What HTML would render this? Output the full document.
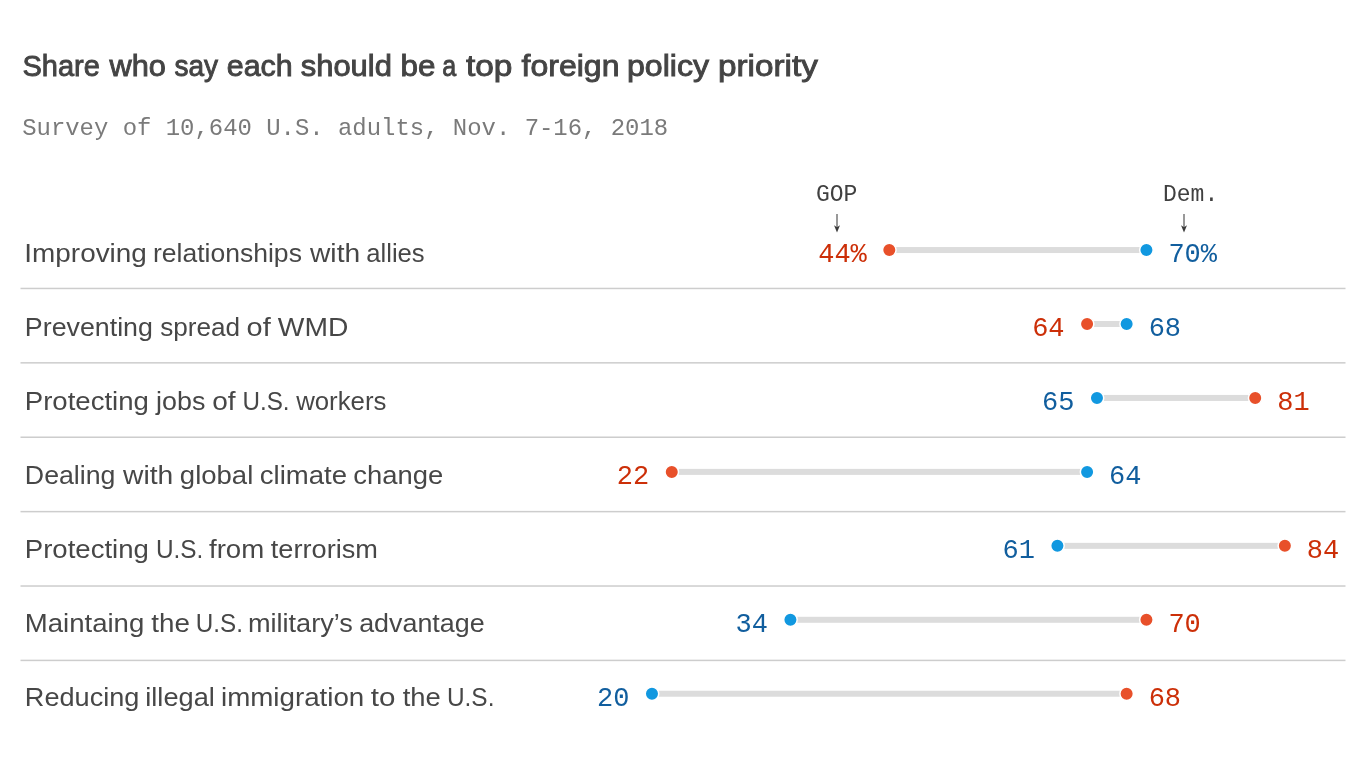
<!DOCTYPE html>
<html><head><meta charset="utf-8"><style>
html,body{margin:0;padding:0;background:#fff;width:1366px;height:768px;overflow:hidden}
svg{position:absolute;left:0;top:0;will-change:transform}
.title{font-family:"Liberation Sans",sans-serif;font-weight:normal;font-size:29.5px;fill:#444;stroke:#444;stroke-width:0.9px}
.sub{font-family:"Liberation Mono",monospace;font-size:24px;fill:#7a7a7a}
.hdr{font-family:"Liberation Mono",monospace;font-size:23px;fill:#404040}
.lab{font-family:"Liberation Sans",sans-serif;font-size:26.5px;fill:#474747}
.num{font-family:"Liberation Mono",monospace;font-size:27px}
</style></head><body>
<svg width="1366" height="768" viewBox="0 0 1366 768">
<text class="title" x="22.44" y="76" textLength="77.41" lengthAdjust="spacingAndGlyphs">Share</text>
<text class="title" x="109.55" y="76" textLength="56.43" lengthAdjust="spacingAndGlyphs">who</text>
<text class="title" x="174.46" y="76" textLength="43.59" lengthAdjust="spacingAndGlyphs">say</text>
<text class="title" x="226.73" y="76" textLength="66.00" lengthAdjust="spacingAndGlyphs">each</text>
<text class="title" x="300.74" y="76" textLength="91.17" lengthAdjust="spacingAndGlyphs">should</text>
<text class="title" x="400.44" y="76" textLength="34.95" lengthAdjust="spacingAndGlyphs">be</text>
<text class="title" x="442.36" y="76" textLength="13.96" lengthAdjust="spacingAndGlyphs">a</text>
<text class="title" x="466.00" y="76" textLength="46.47" lengthAdjust="spacingAndGlyphs">top</text>
<text class="title" x="521.60" y="76" textLength="97.88" lengthAdjust="spacingAndGlyphs">foreign</text>
<text class="title" x="627.00" y="76" textLength="82.07" lengthAdjust="spacingAndGlyphs">policy</text>
<text class="title" x="718.05" y="76" textLength="99.80" lengthAdjust="spacingAndGlyphs">priority</text>
<text class="sub" x="22.2" y="135" textLength="646.0" lengthAdjust="spacingAndGlyphs">Survey of 10,640 U.S. adults, Nov. 7-16, 2018</text>
<text class="hdr" x="816" y="200.5">GOP</text>
<text class="hdr" x="1163" y="200.5">Dem.</text>
<g fill="#3a3a3a">
<path d="M837 214V228" stroke="#555" stroke-width="1.2" fill="none"/>
<path d="M834 225.3L837 227.3L840 225.3L837 232.6Z"/>
<path d="M1184 214V228" stroke="#555" stroke-width="1.2" fill="none"/>
<path d="M1181 225.3L1184 227.3L1187 225.3L1184 232.6Z"/>
</g>
<rect x="20.5" y="287.71" width="1325" height="1.5" fill="#cdcdcd"/>
<rect x="20.5" y="362.10" width="1325" height="1.5" fill="#cdcdcd"/>
<rect x="20.5" y="436.49" width="1325" height="1.5" fill="#cdcdcd"/>
<rect x="20.5" y="510.88" width="1325" height="1.5" fill="#cdcdcd"/>
<rect x="20.5" y="585.27" width="1325" height="1.5" fill="#cdcdcd"/>
<rect x="20.5" y="659.66" width="1325" height="1.5" fill="#cdcdcd"/>
<text class="lab" x="24.37" y="261.84" textLength="122.46" lengthAdjust="spacingAndGlyphs">Improving</text>
<text class="lab" x="152.95" y="261.84" textLength="148.96" lengthAdjust="spacingAndGlyphs">relationships</text>
<text class="lab" x="310.00" y="261.84" textLength="50.18" lengthAdjust="spacingAndGlyphs">with</text>
<text class="lab" x="366.31" y="261.84" textLength="58.37" lengthAdjust="spacingAndGlyphs">allies</text>
<rect x="889.31" y="247.04" width="257.11" height="6" fill="#dcdcdc"/>
<circle cx="889.31" cy="250.04" r="6.75" fill="#e8502a" stroke="#fff" stroke-width="1.5"/>
<circle cx="1146.42" cy="250.04" r="6.75" fill="#1198e0" stroke="#fff" stroke-width="1.5"/>
<text class="num" x="866.81" y="262.04" text-anchor="end" fill="#cc2f08">44%</text>
<text class="num" x="1168.42" y="262.04" fill="#115e9e">70%</text>
<text class="lab" x="24.85" y="335.79" textLength="128.07" lengthAdjust="spacingAndGlyphs">Preventing</text>
<text class="lab" x="160.16" y="335.79" textLength="79.90" lengthAdjust="spacingAndGlyphs">spread</text>
<text class="lab" x="246.57" y="335.79" textLength="24.11" lengthAdjust="spacingAndGlyphs">of</text>
<text class="lab" x="277.87" y="335.79" textLength="70.55" lengthAdjust="spacingAndGlyphs">WMD</text>
<rect x="1087.09" y="320.99" width="39.56" height="6" fill="#dcdcdc"/>
<circle cx="1087.09" cy="323.99" r="6.75" fill="#e8502a" stroke="#fff" stroke-width="1.5"/>
<circle cx="1126.64" cy="323.99" r="6.75" fill="#1198e0" stroke="#fff" stroke-width="1.5"/>
<text class="num" x="1064.59" y="335.99" text-anchor="end" fill="#cc2f08">64</text>
<text class="num" x="1148.64" y="335.99" fill="#115e9e">68</text>
<text class="lab" x="24.79" y="409.74" textLength="124.08" lengthAdjust="spacingAndGlyphs">Protecting</text>
<text class="lab" x="156.13" y="409.74" textLength="49.28" lengthAdjust="spacingAndGlyphs">jobs</text>
<text class="lab" x="212.31" y="409.74" textLength="23.37" lengthAdjust="spacingAndGlyphs">of</text>
<text class="lab" x="242.47" y="409.74" textLength="47.14" lengthAdjust="spacingAndGlyphs">U.S.</text>
<text class="lab" x="296.20" y="409.74" textLength="90.19" lengthAdjust="spacingAndGlyphs">workers</text>
<rect x="1096.97" y="394.94" width="158.22" height="6" fill="#dcdcdc"/>
<circle cx="1255.20" cy="397.94" r="6.75" fill="#e8502a" stroke="#fff" stroke-width="1.5"/>
<circle cx="1096.97" cy="397.94" r="6.75" fill="#1198e0" stroke="#fff" stroke-width="1.5"/>
<text class="num" x="1277.20" y="409.94" fill="#cc2f08">81</text>
<text class="num" x="1074.47" y="409.94" text-anchor="end" fill="#115e9e">65</text>
<text class="lab" x="24.86" y="483.69" textLength="90.61" lengthAdjust="spacingAndGlyphs">Dealing</text>
<text class="lab" x="123.00" y="483.69" textLength="50.28" lengthAdjust="spacingAndGlyphs">with</text>
<text class="lab" x="179.83" y="483.69" textLength="73.47" lengthAdjust="spacingAndGlyphs">global</text>
<text class="lab" x="259.83" y="483.69" textLength="87.22" lengthAdjust="spacingAndGlyphs">climate</text>
<text class="lab" x="353.24" y="483.69" textLength="89.91" lengthAdjust="spacingAndGlyphs">change</text>
<rect x="671.76" y="468.89" width="415.33" height="6" fill="#dcdcdc"/>
<circle cx="671.76" cy="471.89" r="6.75" fill="#e8502a" stroke="#fff" stroke-width="1.5"/>
<circle cx="1087.09" cy="471.89" r="6.75" fill="#1198e0" stroke="#fff" stroke-width="1.5"/>
<text class="num" x="649.26" y="483.89" text-anchor="end" fill="#cc2f08">22</text>
<text class="num" x="1109.09" y="483.89" fill="#115e9e">64</text>
<text class="lab" x="24.79" y="557.64" textLength="124.08" lengthAdjust="spacingAndGlyphs">Protecting</text>
<text class="lab" x="155.96" y="557.64" textLength="47.36" lengthAdjust="spacingAndGlyphs">U.S.</text>
<text class="lab" x="209.01" y="557.64" textLength="55.21" lengthAdjust="spacingAndGlyphs">from</text>
<text class="lab" x="270.82" y="557.64" textLength="107.11" lengthAdjust="spacingAndGlyphs">terrorism</text>
<rect x="1057.42" y="542.84" width="227.44" height="6" fill="#dcdcdc"/>
<circle cx="1284.86" cy="545.84" r="6.75" fill="#e8502a" stroke="#fff" stroke-width="1.5"/>
<circle cx="1057.42" cy="545.84" r="6.75" fill="#1198e0" stroke="#fff" stroke-width="1.5"/>
<text class="num" x="1306.86" y="557.84" fill="#cc2f08">84</text>
<text class="num" x="1034.92" y="557.84" text-anchor="end" fill="#115e9e">61</text>
<text class="lab" x="24.79" y="631.59" textLength="119.46" lengthAdjust="spacingAndGlyphs">Maintaing</text>
<text class="lab" x="151.31" y="631.59" textLength="38.57" lengthAdjust="spacingAndGlyphs">the</text>
<text class="lab" x="195.87" y="631.59" textLength="47.14" lengthAdjust="spacingAndGlyphs">U.S.</text>
<text class="lab" x="247.91" y="631.59" textLength="104.97" lengthAdjust="spacingAndGlyphs">military’s</text>
<text class="lab" x="359.16" y="631.59" textLength="125.51" lengthAdjust="spacingAndGlyphs">advantage</text>
<rect x="790.42" y="616.79" width="356.00" height="6" fill="#dcdcdc"/>
<circle cx="1146.42" cy="619.79" r="6.75" fill="#e8502a" stroke="#fff" stroke-width="1.5"/>
<circle cx="790.42" cy="619.79" r="6.75" fill="#1198e0" stroke="#fff" stroke-width="1.5"/>
<text class="num" x="1168.42" y="631.79" fill="#cc2f08">70</text>
<text class="num" x="767.92" y="631.79" text-anchor="end" fill="#115e9e">34</text>
<text class="lab" x="24.83" y="705.54" textLength="114.53" lengthAdjust="spacingAndGlyphs">Reducing</text>
<text class="lab" x="145.31" y="705.54" textLength="69.51" lengthAdjust="spacingAndGlyphs">illegal</text>
<text class="lab" x="220.97" y="705.54" textLength="143.31" lengthAdjust="spacingAndGlyphs">immigration</text>
<text class="lab" x="370.88" y="705.54" textLength="24.66" lengthAdjust="spacingAndGlyphs">to</text>
<text class="lab" x="402.71" y="705.54" textLength="38.05" lengthAdjust="spacingAndGlyphs">the</text>
<text class="lab" x="446.96" y="705.54" textLength="47.47" lengthAdjust="spacingAndGlyphs">U.S.</text>
<rect x="651.98" y="690.74" width="474.66" height="6" fill="#dcdcdc"/>
<circle cx="1126.64" cy="693.74" r="6.75" fill="#e8502a" stroke="#fff" stroke-width="1.5"/>
<circle cx="651.98" cy="693.74" r="6.75" fill="#1198e0" stroke="#fff" stroke-width="1.5"/>
<text class="num" x="1148.64" y="705.74" fill="#cc2f08">68</text>
<text class="num" x="629.48" y="705.74" text-anchor="end" fill="#115e9e">20</text>
</svg>
</body></html>
